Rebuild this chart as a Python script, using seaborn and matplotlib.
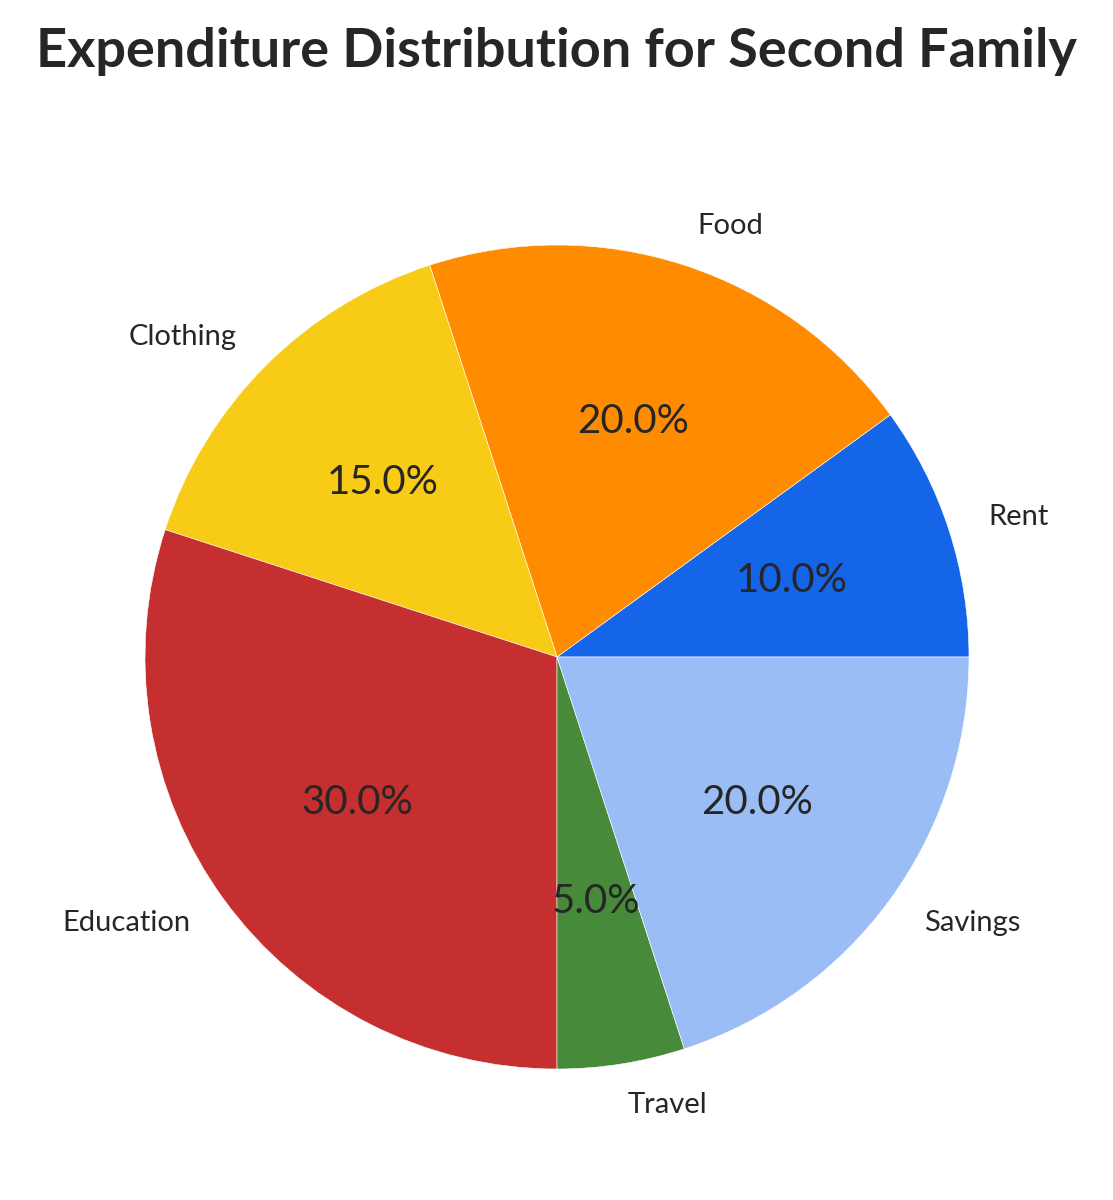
import matplotlib.pyplot as plt
import seaborn as sns

sns.set_theme(style="white")
plt.rcParams['font.family'] = ['Lato', 'DejaVu Sans']

categories = ["Rent", "Food", "Clothing", "Education", "Travel", "Savings"]
values = [10, 20, 15, 30, 5, 20]
colors = ["#1565E8", "#FF8C00", "#F8CB16", "#C62F2F", "#468A3A", "#9BBDF5"]

fig = plt.figure(figsize=(11.13, 12), dpi=100)

# pie radius ~412 px, centre at (557, 657) px from top-left
r_px = 412
side = 2.5 * r_px
cx, cy = 557, 1200 - 657
ax = fig.add_axes([(cx - side / 2) / 1113, (cy - side / 2) / 1200, side / 1113, side / 1200])

wedges, texts, autotexts = ax.pie(
    values,
    labels=categories,
    colors=colors,
    autopct="%1.1f%%",
    startangle=0,
    labeldistance=1.1,
    pctdistance=0.6,
    wedgeprops={"edgecolor": "white", "linewidth": 0.4},
    textprops={"fontsize": 21, "color": "#262626"},
)
for t in autotexts:
    t.set_fontsize(29)

fig.text(0.5, 1 - 67 / 1200, "Expenditure Distribution for Second Family",
         ha="center", va="baseline", fontsize=39, fontweight="bold",
         color="#262626")

plt.savefig("out.png", dpi=100)
